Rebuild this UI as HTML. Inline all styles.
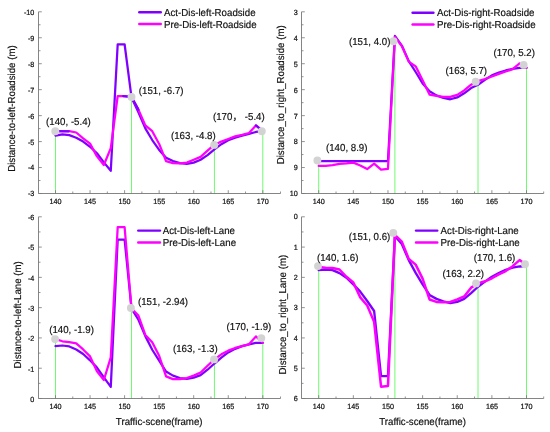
<!DOCTYPE html>
<html lang="en"><head><meta charset="utf-8"><title>Distance plots</title>
<style>
html,body{margin:0;padding:0;background:#fff;}
body{width:550px;height:432px;overflow:hidden;}
svg{display:block;font-family:"Liberation Sans","Noto Sans CJK SC",sans-serif;font-size:10.1px;fill:#111;}
svg text{text-rendering:geometricPrecision;stroke:#111;stroke-width:0.18px;stroke-linejoin:round}
.tk{font-size:7.5px}
svg .tk text{stroke-width:0.22px}
</style></head><body>
<svg width="550" height="432" viewBox="0 0 550 432">
<rect width="550" height="432" fill="#fff"/>
<line x1="55.5" y1="133.8" x2="55.5" y2="193.5" stroke="#70FA70" stroke-width="1"/>
<line x1="131.51" y1="97.46" x2="131.51" y2="193.5" stroke="#70FA70" stroke-width="1"/>
<line x1="214.43" y1="146.78" x2="214.43" y2="193.5" stroke="#70FA70" stroke-width="1"/>
<line x1="262.8" y1="131.2" x2="262.8" y2="193.5" stroke="#70FA70" stroke-width="1"/>
<polyline points="55.5,135.62 62.41,134.32 69.32,135.1 76.23,137.69 83.14,141.59 90.05,146.78 96.96,153.27 103.87,162.35 110.78,170.79 117.69,44.25 124.6,44.25 131.51,97.46 138.42,112.25 145.33,128.35 152.24,140.03 159.15,149.89 166.06,157.68 172.97,161.05 179.88,163.13 186.79,163.91 193.7,162.61 200.61,159.76 207.52,155.08 214.43,149.37 221.34,144.18 228.25,140.29 235.16,137.69 242.07,135.62 248.98,133.8 255.89,131.98 262.8,131.2" fill="none" stroke="#8000FF" stroke-width="2.25" stroke-linejoin="round" stroke-linecap="round" />
<polyline points="55.5,131.2 62.41,131.2 69.32,131.2 76.23,132.5 83.14,138.47 90.05,143.66 96.96,156.38 103.87,164.95 110.78,148.08 117.69,96.16 124.6,96.16 131.51,96.94 138.42,109.66 145.33,125.49 152.24,131.2 159.15,143.92 166.06,161.05 172.97,163.13 179.88,163.39 186.79,162.61 193.7,159.76 200.61,156.9 207.52,150.67 214.43,144.7 221.34,141.59 228.25,138.99 235.16,136.39 242.07,134.84 248.98,133.02 255.89,125.49 262.8,131.2" fill="none" stroke="#FF00FF" stroke-width="2.25" stroke-linejoin="round" stroke-linecap="round" />
<polyline points="55.5,131.2 68.63,131.46" fill="none" stroke="#8000FF" stroke-width="2.25" stroke-linejoin="round" stroke-linecap="round" />
<polyline points="123.22,96.16 131.51,96.94 138.42,109.66" fill="none" stroke="#8000FF" stroke-width="2.25" stroke-linejoin="round" stroke-linecap="round" />
<polyline points="255.89,125.49 262.8,131.2" fill="none" stroke="#8000FF" stroke-width="2.25" stroke-linejoin="round" stroke-linecap="round" />
<circle cx="55.3" cy="131.3" r="3.95" fill="#D3D3D3"/>
<circle cx="131.5" cy="97" r="3.95" fill="#D3D3D3"/>
<circle cx="214.2" cy="144.9" r="3.95" fill="#D3D3D3"/>
<circle cx="261.8" cy="131.2" r="3.95" fill="#D3D3D3"/>
<path d="M38.5 11.8 V193.5 H280.5" fill="none" stroke="#666" stroke-width="0.8"/>
<path d="M55.5 193.5 v-3.3 M72.78 193.5 v-2 M90.05 193.5 v-3.3 M107.33 193.5 v-2 M124.6 193.5 v-3.3 M141.88 193.5 v-2 M159.15 193.5 v-3.3 M176.43 193.5 v-2 M193.7 193.5 v-3.3 M210.97 193.5 v-2 M228.25 193.5 v-3.3 M245.53 193.5 v-2 M262.8 193.5 v-3.3 M280.5 193.5 v-2 M38.5 11.8 h3.3 M38.5 24.78 h2 M38.5 37.76 h3.3 M38.5 50.74 h2 M38.5 63.71 h3.3 M38.5 76.69 h2 M38.5 89.67 h3.3 M38.5 102.65 h2 M38.5 115.63 h3.3 M38.5 128.61 h2 M38.5 141.59 h3.3 M38.5 154.56 h2 M38.5 167.54 h3.3 M38.5 180.52 h2 M38.5 193.5 h3.3" fill="none" stroke="#777" stroke-width="0.8"/>
<g class="tk">
<text transform="translate(55.5,203.5) scale(0.96,1)" text-anchor="middle">140</text>
<text transform="translate(90.05,203.5) scale(0.96,1)" text-anchor="middle">145</text>
<text transform="translate(124.6,203.5) scale(0.96,1)" text-anchor="middle">150</text>
<text transform="translate(159.15,203.5) scale(0.96,1)" text-anchor="middle">155</text>
<text transform="translate(193.7,203.5) scale(0.96,1)" text-anchor="middle">160</text>
<text transform="translate(228.25,203.5) scale(0.96,1)" text-anchor="middle">165</text>
<text transform="translate(262.8,203.5) scale(0.96,1)" text-anchor="middle">170</text>
<text transform="translate(34.3,14.75) scale(0.96,1)" text-anchor="end">-10</text>
<text transform="translate(34.3,40.71) scale(0.96,1)" text-anchor="end">-9</text>
<text transform="translate(34.3,66.66) scale(0.96,1)" text-anchor="end">-8</text>
<text transform="translate(34.3,92.62) scale(0.96,1)" text-anchor="end">-7</text>
<text transform="translate(34.3,118.58) scale(0.96,1)" text-anchor="end">-6</text>
<text transform="translate(34.3,144.54) scale(0.96,1)" text-anchor="end">-5</text>
<text transform="translate(34.3,170.49) scale(0.96,1)" text-anchor="end">-4</text>
<text transform="translate(34.3,196.45) scale(0.96,1)" text-anchor="end">-3</text>
</g>
<text transform="translate(46.1,124.5) scale(0.96,1)">(140, -5.4)</text>
<text transform="translate(138.8,94.2) scale(0.96,1)">(151, -6.7)</text>
<text transform="translate(171,139) scale(0.96,1)">(163, -4.8)</text>
<text transform="translate(213,120) scale(0.96,1)">(170， -5.4)</text>
<line x1="139.3" y1="12.2" x2="160.75" y2="12.2" stroke="#8000FF" stroke-width="2.5" stroke-linecap="round"/>
<line x1="139.3" y1="24.1" x2="160.75" y2="24.1" stroke="#FF00FF" stroke-width="2.5" stroke-linecap="round"/>
<text transform="translate(164,15.65) scale(0.96,1)">Act-Dis-left-Roadside</text>
<text transform="translate(164,27.55) scale(0.96,1)">Pre-Dis-left-Roadside</text>
<text transform="translate(15.3,108.6) rotate(-90) scale(0.96,1)" text-anchor="middle">Distance-to-left-Roadside (m)</text>
<line x1="318.7" y1="162.35" x2="318.7" y2="193.5" stroke="#70FA70" stroke-width="1"/>
<line x1="394.9" y1="37.76" x2="394.9" y2="193.5" stroke="#70FA70" stroke-width="1"/>
<line x1="478.02" y1="81.88" x2="478.02" y2="193.5" stroke="#70FA70" stroke-width="1"/>
<line x1="526.51" y1="68.91" x2="526.51" y2="193.5" stroke="#70FA70" stroke-width="1"/>
<polyline points="318.7,161.05 325.63,161.05 332.55,161.05 339.48,161.05 346.41,161.05 353.33,161.05 360.26,161.05 367.19,161.05 374.12,161.05 381.04,161.05 387.97,161.05 394.9,35.94 401.82,45.54 408.75,61.12 415.68,72.02 422.61,83.44 429.53,91.23 436.46,95.38 443.39,97.98 450.31,99.28 457.24,97.46 464.17,93.31 471.09,88.11 478.02,84.74 484.95,79.81 491.88,75.4 498.8,72.54 505.73,70.46 512.66,68.91 519.58,67.87 526.51,67.61" fill="none" stroke="#8000FF" stroke-width="2.25" stroke-linejoin="round" stroke-linecap="round" />
<polyline points="318.7,165.99 325.63,165.99 332.55,165.21 339.48,163.91 346.41,163.39 353.33,162.61 360.26,165.47 367.19,169.1 374.12,163.65 381.04,169.62 387.97,168.84 394.9,36.98 401.82,46.06 408.75,61.64 415.68,66.31 422.61,80.33 429.53,94.6 436.46,95.9 443.39,96.94 450.31,96.94 457.24,94.86 464.17,90.45 471.09,84.74 478.02,81.11 484.95,79.03 491.88,76.43 498.8,73.84 505.73,71.5 512.66,69.17 519.58,63.45 526.51,67.87" fill="none" stroke="#FF00FF" stroke-width="2.25" stroke-linejoin="round" stroke-linecap="round" />
<circle cx="317.4" cy="160.5" r="3.95" fill="#D3D3D3"/>
<circle cx="393.5" cy="41.25" r="3.95" fill="#D3D3D3"/>
<circle cx="475.7" cy="81.7" r="3.95" fill="#D3D3D3"/>
<circle cx="523.6" cy="64.9" r="3.95" fill="#D3D3D3"/>
<path d="M301.5 11.8 V193.5 H543.7" fill="none" stroke="#666" stroke-width="0.8"/>
<path d="M318.7 193.5 v-3.3 M336.02 193.5 v-2 M353.33 193.5 v-3.3 M370.65 193.5 v-2 M387.97 193.5 v-3.3 M405.29 193.5 v-2 M422.61 193.5 v-3.3 M439.92 193.5 v-2 M457.24 193.5 v-3.3 M474.56 193.5 v-2 M491.88 193.5 v-3.3 M509.19 193.5 v-2 M526.51 193.5 v-3.3 M543.7 193.5 v-2 M301.5 11.8 h3.3 M301.5 24.78 h2 M301.5 37.76 h3.3 M301.5 50.74 h2 M301.5 63.71 h3.3 M301.5 76.69 h2 M301.5 89.67 h3.3 M301.5 102.65 h2 M301.5 115.63 h3.3 M301.5 128.61 h2 M301.5 141.59 h3.3 M301.5 154.56 h2 M301.5 167.54 h3.3 M301.5 180.52 h2 M301.5 193.5 h3.3" fill="none" stroke="#777" stroke-width="0.8"/>
<g class="tk">
<text transform="translate(318.7,203.5) scale(0.96,1)" text-anchor="middle">140</text>
<text transform="translate(353.33,203.5) scale(0.96,1)" text-anchor="middle">145</text>
<text transform="translate(387.97,203.5) scale(0.96,1)" text-anchor="middle">150</text>
<text transform="translate(422.61,203.5) scale(0.96,1)" text-anchor="middle">155</text>
<text transform="translate(457.24,203.5) scale(0.96,1)" text-anchor="middle">160</text>
<text transform="translate(491.88,203.5) scale(0.96,1)" text-anchor="middle">165</text>
<text transform="translate(526.51,203.5) scale(0.96,1)" text-anchor="middle">170</text>
<text transform="translate(297.7,14.7) scale(0.96,1)" text-anchor="end">3</text>
<text transform="translate(297.7,40.66) scale(0.96,1)" text-anchor="end">4</text>
<text transform="translate(297.7,66.61) scale(0.96,1)" text-anchor="end">5</text>
<text transform="translate(297.7,92.57) scale(0.96,1)" text-anchor="end">6</text>
<text transform="translate(297.7,118.53) scale(0.96,1)" text-anchor="end">7</text>
<text transform="translate(297.7,144.49) scale(0.96,1)" text-anchor="end">8</text>
<text transform="translate(297.7,170.44) scale(0.96,1)" text-anchor="end">9</text>
<text transform="translate(297.7,196.4) scale(0.96,1)" text-anchor="end">10</text>
</g>
<text transform="translate(326,151.3) scale(0.96,1)">(140, 8.9)</text>
<text transform="translate(348.9,44.6) scale(0.96,1)">(151, 4.0)</text>
<text transform="translate(445.6,74.2) scale(0.96,1)">(163, 5.7)</text>
<text transform="translate(493.4,56.4) scale(0.96,1)">(170, 5.2)</text>
<line x1="412.6" y1="12.8" x2="433.4" y2="12.8" stroke="#8000FF" stroke-width="2.5" stroke-linecap="round"/>
<line x1="412.6" y1="24.45" x2="433.4" y2="24.45" stroke="#FF00FF" stroke-width="2.5" stroke-linecap="round"/>
<text transform="translate(437,16.25) scale(0.96,1)">Act-Dis-right-Roadside</text>
<text transform="translate(437,27.9) scale(0.96,1)">Pre-Dis-right-Roadside</text>
<text transform="translate(283.9,94.8) rotate(-90) scale(0.96,1)" text-anchor="middle">Distance_to_right_Roadside (m)</text>
<line x1="55.5" y1="340.96" x2="55.5" y2="398.5" stroke="#70FA70" stroke-width="1"/>
<line x1="131.51" y1="309.47" x2="131.51" y2="398.5" stroke="#70FA70" stroke-width="1"/>
<line x1="214.43" y1="359.13" x2="214.43" y2="398.5" stroke="#70FA70" stroke-width="1"/>
<line x1="262.8" y1="340.96" x2="262.8" y2="398.5" stroke="#70FA70" stroke-width="1"/>
<polyline points="55.5,346.11 62.41,345.5 69.32,346.41 76.23,349.44 83.14,353.98 90.05,360.34 96.96,367.61 103.87,377.3 110.78,386.84 117.69,239.51 124.6,239.51 131.51,308.56 138.42,319.76 145.33,336.12 152.24,349.74 159.15,360.65 166.06,371.55 172.97,375.64 179.88,378.06 186.79,378.82 193.7,377.6 200.61,375.18 207.52,369.73 214.43,363.52 221.34,357.62 228.25,352.47 235.16,348.84 242.07,346.11 248.98,344.29 255.89,342.78 262.8,342.78" fill="none" stroke="#8000FF" stroke-width="2.25" stroke-linejoin="round" stroke-linecap="round" />
<polyline points="55.5,339.14 62.41,341.26 69.32,342.17 76.23,343.38 83.14,349.44 90.05,356.41 96.96,371.25 103.87,380.03 110.78,357.31 117.69,227.1 124.6,227.1 131.51,308.56 138.42,315.52 145.33,334.91 152.24,342.17 159.15,355.8 166.06,376.39 172.97,379.12 179.88,379.12 186.79,378.06 193.7,375.64 200.61,372.46 207.52,365.79 214.43,359.43 221.34,354.29 228.25,350.65 235.16,347.93 242.07,346.11 248.98,344.29 255.89,336.42 262.8,342.78" fill="none" stroke="#FF00FF" stroke-width="2.25" stroke-linejoin="round" stroke-linecap="round" />
<circle cx="55.1" cy="339.1" r="3.95" fill="#D3D3D3"/>
<circle cx="130.9" cy="308" r="3.95" fill="#D3D3D3"/>
<circle cx="214.1" cy="359.4" r="3.95" fill="#D3D3D3"/>
<circle cx="261.3" cy="338.1" r="3.95" fill="#D3D3D3"/>
<path d="M38.5 216.8 V398.5 H280.5" fill="none" stroke="#666" stroke-width="0.8"/>
<path d="M55.5 398.5 v-3.3 M72.78 398.5 v-2 M90.05 398.5 v-3.3 M107.33 398.5 v-2 M124.6 398.5 v-3.3 M141.88 398.5 v-2 M159.15 398.5 v-3.3 M176.43 398.5 v-2 M193.7 398.5 v-3.3 M210.97 398.5 v-2 M228.25 398.5 v-3.3 M245.53 398.5 v-2 M262.8 398.5 v-3.3 M280.5 398.5 v-2 M38.5 216.8 h3.3 M38.5 231.94 h2 M38.5 247.08 h3.3 M38.5 262.23 h2 M38.5 277.37 h3.3 M38.5 292.51 h2 M38.5 307.65 h3.3 M38.5 322.79 h2 M38.5 337.93 h3.3 M38.5 353.08 h2 M38.5 368.22 h3.3 M38.5 383.36 h2 M38.5 398.5 h3.3" fill="none" stroke="#777" stroke-width="0.8"/>
<g class="tk">
<text transform="translate(55.5,408.5) scale(0.96,1)" text-anchor="middle">140</text>
<text transform="translate(90.05,408.5) scale(0.96,1)" text-anchor="middle">145</text>
<text transform="translate(124.6,408.5) scale(0.96,1)" text-anchor="middle">150</text>
<text transform="translate(159.15,408.5) scale(0.96,1)" text-anchor="middle">155</text>
<text transform="translate(193.7,408.5) scale(0.96,1)" text-anchor="middle">160</text>
<text transform="translate(228.25,408.5) scale(0.96,1)" text-anchor="middle">165</text>
<text transform="translate(262.8,408.5) scale(0.96,1)" text-anchor="middle">170</text>
<text transform="translate(34.3,220.1) scale(0.96,1)" text-anchor="end">-6</text>
<text transform="translate(34.3,250.38) scale(0.96,1)" text-anchor="end">-5</text>
<text transform="translate(34.3,280.67) scale(0.96,1)" text-anchor="end">-4</text>
<text transform="translate(34.3,310.95) scale(0.96,1)" text-anchor="end">-3</text>
<text transform="translate(34.3,341.23) scale(0.96,1)" text-anchor="end">-2</text>
<text transform="translate(34.3,371.52) scale(0.96,1)" text-anchor="end">-1</text>
<text transform="translate(34.3,401.8) scale(0.96,1)" text-anchor="end">0</text>
</g>
<text transform="translate(49.2,332.5) scale(0.96,1)">(140, -1.9)</text>
<text transform="translate(138,305) scale(0.96,1)">(151, -2.94)</text>
<text transform="translate(173,352) scale(0.96,1)">(163, -1.3)</text>
<text transform="translate(226.6,330) scale(0.96,1)">(170, -1.9)</text>
<line x1="138.2" y1="230.6" x2="160.0" y2="230.6" stroke="#8000FF" stroke-width="2.35" stroke-linecap="round"/>
<line x1="138.2" y1="242.5" x2="160.0" y2="242.5" stroke="#FF00FF" stroke-width="2.35" stroke-linecap="round"/>
<text transform="translate(162.8,234.15) scale(0.96,1)">Act-Dis-left-Lane</text>
<text transform="translate(162.8,246.05) scale(0.96,1)">Pre-Dis-left-Lane</text>
<text transform="translate(20.5,314.8) rotate(-90) scale(0.96,1)" text-anchor="middle">Distance-to-left-Lane (m)</text>
<text transform="translate(159.2,425) scale(0.96,1)" text-anchor="middle">Traffic-scene(frame)</text>
<line x1="318.7" y1="265.25" x2="318.7" y2="398.5" stroke="#70FA70" stroke-width="1"/>
<line x1="394.9" y1="234.97" x2="394.9" y2="398.5" stroke="#70FA70" stroke-width="1"/>
<line x1="478.02" y1="283.42" x2="478.02" y2="398.5" stroke="#70FA70" stroke-width="1"/>
<line x1="526.51" y1="265.25" x2="526.51" y2="398.5" stroke="#70FA70" stroke-width="1"/>
<polyline points="318.7,270.1 325.63,269.49 332.55,270.1 339.48,273.13 346.41,277.67 353.33,284.33 360.26,291.6 367.19,300.99 374.12,310.98 381.04,376.09 387.97,376.09 394.9,235.88 401.82,244.06 408.75,260.11 415.68,272.82 422.61,284.33 429.53,294.93 436.46,298.87 443.39,301.29 450.31,303.11 457.24,301.9 464.17,298.87 471.09,293.11 478.02,286.75 484.95,281.61 491.88,276.76 498.8,273.13 505.73,269.8 512.66,267.68 519.58,266.46 526.51,266.16" fill="none" stroke="#8000FF" stroke-width="2.35" stroke-linejoin="round" stroke-linecap="round" />
<polyline points="318.7,267.07 325.63,267.68 332.55,267.98 339.48,269.49 346.41,276.76 353.33,282.51 360.26,297.35 367.19,305.53 374.12,321.88 381.04,386.69 387.97,385.93 394.9,234.97 401.82,241.63 408.75,258.89 415.68,264.65 422.61,278.58 429.53,299.47 436.46,301.9 443.39,302.2 450.31,301.9 457.24,299.47 464.17,296.45 471.09,287.66 478.02,283.42 484.95,281.3 491.88,278.28 498.8,274.34 505.73,271.01 512.66,266.16 519.58,260.11 526.51,265.25" fill="none" stroke="#FF00FF" stroke-width="2.5" stroke-linejoin="round" stroke-linecap="round" />
<circle cx="318" cy="266.1" r="3.95" fill="#D3D3D3"/>
<circle cx="393.3" cy="232.9" r="3.95" fill="#D3D3D3"/>
<circle cx="476" cy="283.4" r="3.95" fill="#D3D3D3"/>
<circle cx="525" cy="264.3" r="3.95" fill="#D3D3D3"/>
<path d="M301.5 216.8 V398.5 H543.7" fill="none" stroke="#666" stroke-width="0.8"/>
<path d="M318.7 398.5 v-3.3 M336.02 398.5 v-2 M353.33 398.5 v-3.3 M370.65 398.5 v-2 M387.97 398.5 v-3.3 M405.29 398.5 v-2 M422.61 398.5 v-3.3 M439.92 398.5 v-2 M457.24 398.5 v-3.3 M474.56 398.5 v-2 M491.88 398.5 v-3.3 M509.19 398.5 v-2 M526.51 398.5 v-3.3 M543.7 398.5 v-2 M301.5 216.8 h3.3 M301.5 231.94 h2 M301.5 247.08 h3.3 M301.5 262.23 h2 M301.5 277.37 h3.3 M301.5 292.51 h2 M301.5 307.65 h3.3 M301.5 322.79 h2 M301.5 337.93 h3.3 M301.5 353.08 h2 M301.5 368.22 h3.3 M301.5 383.36 h2 M301.5 398.5 h3.3" fill="none" stroke="#777" stroke-width="0.8"/>
<g class="tk">
<text transform="translate(318.7,408.5) scale(0.96,1)" text-anchor="middle">140</text>
<text transform="translate(353.33,408.5) scale(0.96,1)" text-anchor="middle">145</text>
<text transform="translate(387.97,408.5) scale(0.96,1)" text-anchor="middle">150</text>
<text transform="translate(422.61,408.5) scale(0.96,1)" text-anchor="middle">155</text>
<text transform="translate(457.24,408.5) scale(0.96,1)" text-anchor="middle">160</text>
<text transform="translate(491.88,408.5) scale(0.96,1)" text-anchor="middle">165</text>
<text transform="translate(526.51,408.5) scale(0.96,1)" text-anchor="middle">170</text>
<text transform="translate(297.7,219.4) scale(0.96,1)" text-anchor="end">0</text>
<text transform="translate(297.7,249.68) scale(0.96,1)" text-anchor="end">1</text>
<text transform="translate(297.7,279.97) scale(0.96,1)" text-anchor="end">2</text>
<text transform="translate(297.7,310.25) scale(0.96,1)" text-anchor="end">3</text>
<text transform="translate(297.7,340.53) scale(0.96,1)" text-anchor="end">4</text>
<text transform="translate(297.7,370.82) scale(0.96,1)" text-anchor="end">5</text>
<text transform="translate(297.7,401.1) scale(0.96,1)" text-anchor="end">6</text>
</g>
<text transform="translate(317,261) scale(0.96,1)">(140, 1.6)</text>
<text transform="translate(348.8,239.5) scale(0.96,1)">(151, 0.6)</text>
<text transform="translate(442.6,277.3) scale(0.96,1)">(163, 2.2)</text>
<text transform="translate(473.8,261) scale(0.96,1)">(170, 1.6)</text>
<line x1="416.0" y1="230.6" x2="437.3" y2="230.6" stroke="#8000FF" stroke-width="2.35" stroke-linecap="round"/>
<line x1="416.0" y1="242.5" x2="437.3" y2="242.5" stroke="#FF00FF" stroke-width="2.35" stroke-linecap="round"/>
<text transform="translate(440.6,234.15) scale(0.96,1)">Act-Dis-right-Lane</text>
<text transform="translate(440.6,246.05) scale(0.96,1)">Pre-Dis-right-Lane</text>
<text transform="translate(285.8,314.6) rotate(-90) scale(0.96,1)" text-anchor="middle">Distance_to_right_Lane (m)</text>
<text transform="translate(422.6,425) scale(0.96,1)" text-anchor="middle">Traffic-scene(frame)</text>
</svg>
</body></html>
